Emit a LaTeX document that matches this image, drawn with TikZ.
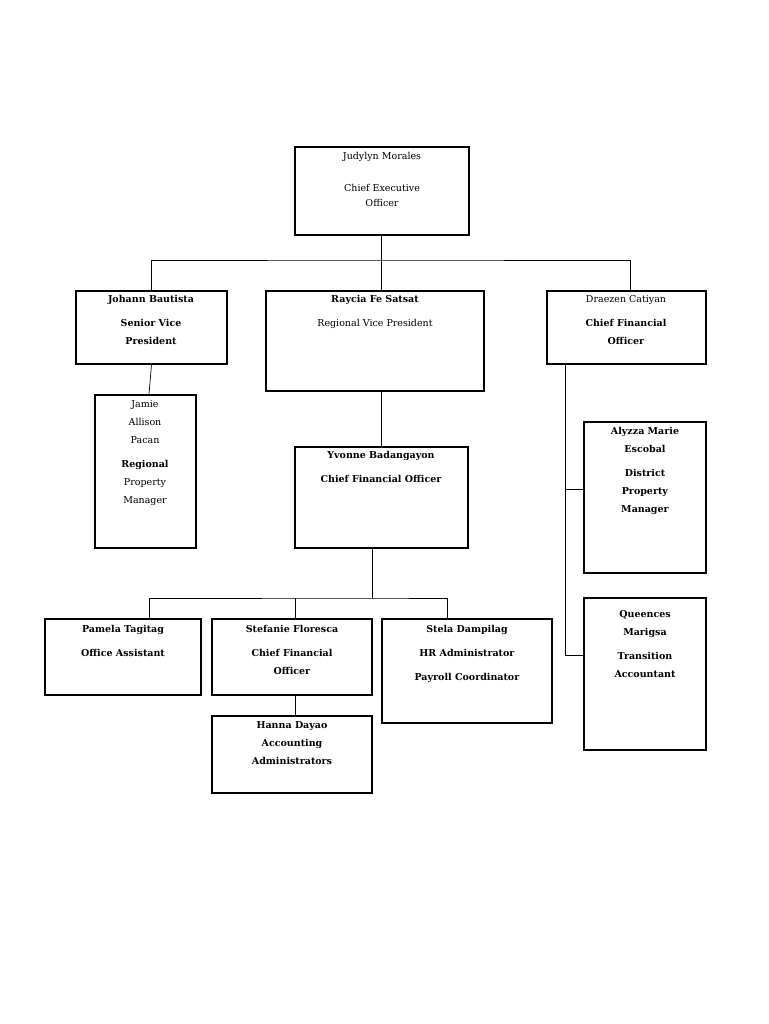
\documentclass[tikz,border=0pt]{standalone}
\usepackage{fontspec}
\setmainfont{DejaVu Serif}
\begin{document}
\begin{tikzpicture}[x=1pt,y=-1pt,
 box/.style={draw,line width=1.6pt,inner sep=0pt},
 txt/.style={anchor=north,align=center,inner sep=0pt,font=\fontsize{9.5}{18}\selectfont},
 ln/.style={line width=0.7pt}]
\useasboundingbox (0,0) rectangle (768,1024);
\newcommand\bx[5]{\node[box,minimum width=#4-#2,minimum height=#5-#3] (#1) at ({(#2+#4)/2},{(#3+#5)/2}) {};}
\bx{ceo}{295}{147}{469}{235}
\bx{joh}{76}{291}{227}{364}
\bx{ray}{266}{291}{484}{391}
\bx{dra}{547}{291}{706}{364}
\bx{jam}{95}{395}{196}{548}
\bx{yvo}{295}{447}{468}{548}
\bx{aly}{584}{422}{706}{573}
\bx{que}{584}{598}{706}{750}
\bx{pam}{45}{619}{201}{695}
\bx{ste}{212}{619}{372}{695}
\bx{sde}{382}{619}{552}{723}
\bx{han}{212}{716}{372}{793}
\node[txt] (tceo) at (382,152) {Judylyn Morales\\[14pt]Chief Executive\\[-3pt]Officer};
\node[txt] (tjoh) at (151,295) {\textbf{Johann Bautista}\\[6pt]\textbf{Senior Vice}\\\textbf{President}};
\node[txt] (tray) at (375,295) {\textbf{Raycia Fe Satsat}\\[6pt]Regional Vice President};
\node[txt] (tdra) at (626,295) {Draezen Catiyan\\[6pt]\textbf{Chief Financial}\\\textbf{Officer}};
\node[txt] (tjam) at (145,400) {Jamie\\Allison\\Pacan\\[6pt]\textbf{Regional}\\Property\\Manager};
\node[txt] (tyvo) at (381,451) {\textbf{Yvonne Badangayon}\\[6pt]\textbf{Chief Financial Officer}};
\node[txt] (taly) at (645,427) {\textbf{Alyzza Marie}\\\textbf{Escobal}\\[6pt]\textbf{District}\\\textbf{Property}\\\textbf{Manager}};
\node[txt] (tque) at (645,610) {\textbf{Queences}\\\textbf{Marigsa}\\[6pt]\textbf{Transition}\\\textbf{Accountant}};
\node[txt] (tpam) at (123,625) {\textbf{Pamela Tagitag}\\[6pt]\textbf{Office Assistant}};
\node[txt] (tste) at (292,625) {\textbf{Stefanie Floresca}\\[6pt]\textbf{Chief Financial}\\\textbf{Officer}};
\node[txt] (tsde) at (467,625) {\textbf{Stela Dampilag}\\[6pt]\textbf{HR Administrator}\\[6pt]\textbf{Payroll Coordinator}};
\node[txt] (than) at (292,721) {\textbf{Hanna Dayao}\\\textbf{Accounting}\\\textbf{Administrators}};
% connectors
\coordinate (j1) at (381,260);
\draw[ln] (ceo.south -| j1) -- (ray.north -| j1);
\draw[ln] (joh.north) |- (j1) -| (dra.north-|630,0);
\draw[ln] (joh.south) -- (jam.north-|149,0);
\draw[ln] (ray.south-|381,0) -- (yvo.north-|381,0);
\coordinate (j2) at (372,598);
\draw[ln] (yvo.south-|j2) -- (j2);
\draw[ln] (pam.north-|149,0) |- (j2) -| (sde.north-|447,0);
\draw[ln] (j2-|295,0) -- (ste.north-|295,0);
\draw[ln] (ste.south-|295,0) -- (han.north-|295,0);
\coordinate (d1) at (565,655);
\draw[ln] (dra.south-|d1) -- (d1) -- (que.west|-d1);
\draw[ln] (d1|-0,489) -- (aly.west|-0,489);
\end{tikzpicture}
\end{document}
